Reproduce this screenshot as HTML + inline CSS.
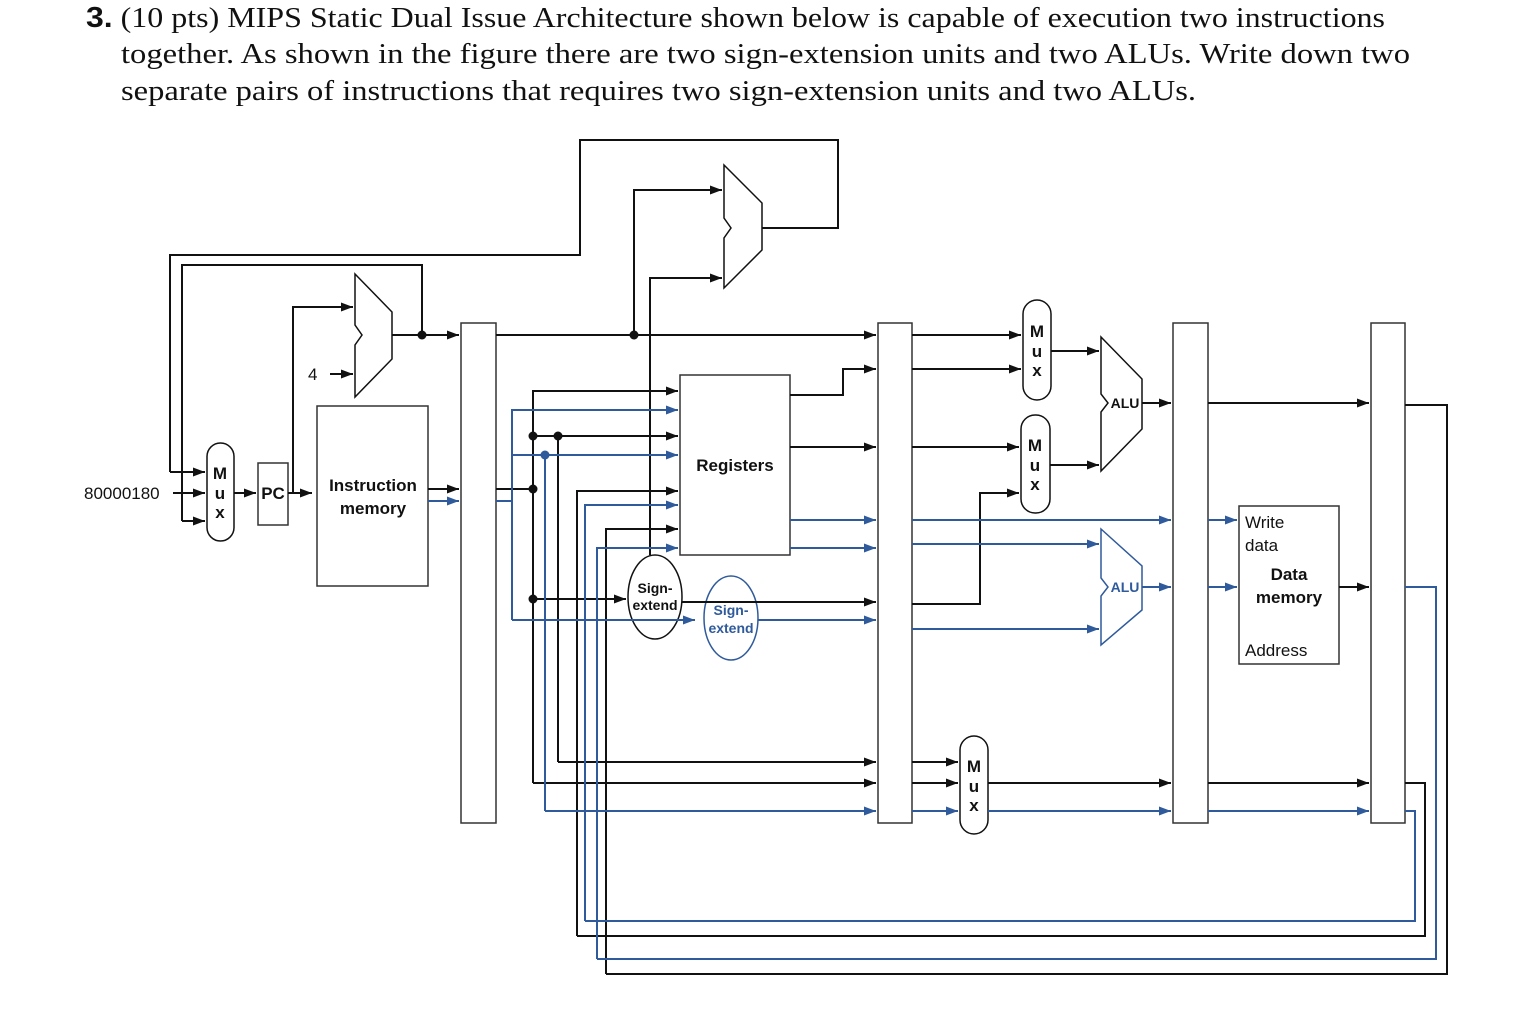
<!DOCTYPE html>
<html><head><meta charset="utf-8"><style>
html,body{margin:0;padding:0;background:#fff;}
svg{display:block}
.t{font-family:"Liberation Serif",serif;font-size:28.5px;fill:#111}
.s{font-family:"Liberation Sans",sans-serif;fill:#111}
.k{stroke:#111;stroke-width:2;fill:none}
.b{stroke:#2f5a9c;stroke-width:2;fill:none}
</style></head><body>
<svg width="1532" height="1014" viewBox="0 0 1532 1014" xmlns="http://www.w3.org/2000/svg">
<defs>
<marker id="ak" markerWidth="12" markerHeight="9" refX="12" refY="4.5" orient="auto" markerUnits="userSpaceOnUse"><path d="M0,0 L12,4.5 L0,9z" fill="#111"/></marker>
<marker id="ab" markerWidth="12" markerHeight="9" refX="12" refY="4.5" orient="auto" markerUnits="userSpaceOnUse"><path d="M0,0 L12,4.5 L0,9z" fill="#2f5a9c"/></marker>
</defs>
<text class="t" x="86" y="27" textLength="1299" lengthAdjust="spacingAndGlyphs"><tspan font-weight="bold" font-family="Liberation Sans">3.</tspan> (10 pts) MIPS Static Dual Issue Architecture shown below is capable of execution two instructions</text>
<text class="t" x="121" y="63" textLength="1289" lengthAdjust="spacingAndGlyphs">together. As shown in the figure there are two sign-extension units and two ALUs. Write down two</text>
<text class="t" x="121" y="100" textLength="1075" lengthAdjust="spacingAndGlyphs">separate pairs of instructions that requires two sign-extension units and two ALUs.</text>

<g stroke="#333" stroke-width="1.5" fill="#fff">
<rect x="461" y="323" width="35" height="500"/>
<rect x="878" y="323" width="34" height="500"/>
<rect x="1173" y="323" width="35" height="500"/>
<rect x="1371" y="323" width="34" height="500"/>
<rect x="317" y="406" width="111" height="180"/>
<rect x="680" y="375" width="110" height="180"/>
<rect x="258" y="463" width="30" height="62"/>
<rect x="1239" y="506" width="100" height="158"/>
</g>
<g stroke="#111" stroke-width="1.5" fill="#fff">
<rect x="207" y="443" width="27" height="98" rx="13.5"/>
<rect x="1023" y="300" width="28" height="100" rx="14"/>
<rect x="1021" y="415" width="29" height="98" rx="14"/>
<rect x="960" y="736" width="28" height="98" rx="14"/>
<path d="M355,274 L392,312 L392,359 L355,397 L355,345 L362,335 L355,325Z"/>
<path d="M724,165 L762,203 L762,250 L724,288 L724,238 L731,228 L724,218Z"/>
<path d="M1101,337 L1142,379 L1142,429 L1101,471 L1101,412 L1108,403 L1101,394Z"/>
<ellipse cx="655" cy="597" rx="27" ry="42"/>
</g>
<path d="M1101,529 L1142,566 L1142,610 L1101,645 L1101,596 L1108,587 L1101,578Z" fill="#fff" stroke="#2f5a9c" stroke-width="1.5"/>
<ellipse cx="731" cy="618" rx="27" ry="42" fill="#fff" stroke="#2f5a9c" stroke-width="1.5"/>

<g class="k">
<path d="M170,472 L170,255 L580,255 L580,140 L838,140 L838,228 L762,228"/>
<path d="M170,472 L205,472" marker-end="url(#ak)"/>
<path d="M182,521 L182,265 L422,265 L422,335"/>
<path d="M182,521 L205,521" marker-end="url(#ak)"/>
<path d="M173,493 L205,493" marker-end="url(#ak)"/>
<path d="M234,493 L256,493" marker-end="url(#ak)"/>
<path d="M288,493 L312,493" marker-end="url(#ak)"/>
<path d="M293,493 L293,307 L353,307" marker-end="url(#ak)"/>
<path d="M330,374 L353,374" marker-end="url(#ak)"/>
<path d="M392,335 L459,335" marker-end="url(#ak)"/>
<path d="M428,489 L459,489" marker-end="url(#ak)"/>
<path d="M496,335 L876,335" marker-end="url(#ak)"/>
<path d="M634,335 L634,190 L722,190" marker-end="url(#ak)"/>
<path d="M650,555 L650,278 L722,278" marker-end="url(#ak)"/>
<path d="M496,489 L533,489"/>
<path d="M533,783 L533,391 L678,391" marker-end="url(#ak)"/>
<path d="M533,436 L678,436" marker-end="url(#ak)"/>
<path d="M558,762 L558,436"/>
<path d="M577,936 L577,491 L678,491" marker-end="url(#ak)"/>
<path d="M606,974 L606,529 L678,529" marker-end="url(#ak)"/>
<path d="M533,599 L626,599" marker-end="url(#ak)"/>
<path d="M682,602 L876,602" marker-end="url(#ak)"/>
<path d="M790,395 L843,395 L843,369 L876,369" marker-end="url(#ak)"/>
<path d="M790,447 L876,447" marker-end="url(#ak)"/>
<path d="M558,762 L876,762" marker-end="url(#ak)"/>
<path d="M533,783 L876,783" marker-end="url(#ak)"/>
<path d="M912,335 L1021,335" marker-end="url(#ak)"/>
<path d="M912,369 L1021,369" marker-end="url(#ak)"/>
<path d="M1051,351 L1099,351" marker-end="url(#ak)"/>
<path d="M912,447 L1019,447" marker-end="url(#ak)"/>
<path d="M912,604 L980,604 L980,493 L1019,493" marker-end="url(#ak)"/>
<path d="M1050,465 L1099,465" marker-end="url(#ak)"/>
<path d="M1142,403 L1171,403" marker-end="url(#ak)"/>
<path d="M912,762 L958,762" marker-end="url(#ak)"/>
<path d="M912,783 L958,783" marker-end="url(#ak)"/>
<path d="M988,783 L1171,783" marker-end="url(#ak)"/>
<path d="M1208,403 L1369,403" marker-end="url(#ak)"/>
<path d="M1339,587 L1369,587" marker-end="url(#ak)"/>
<path d="M1208,783 L1369,783" marker-end="url(#ak)"/>
<path d="M1405,405 L1447,405 L1447,974 L606,974"/>
<path d="M1405,783 L1425,783 L1425,936 L577,936"/>
</g>
<g class="b">
<path d="M428,501 L459,501" marker-end="url(#ab)"/>
<path d="M496,501 L512,501"/>
<path d="M512,620 L512,410 L678,410" marker-end="url(#ab)"/>
<path d="M512,455 L678,455" marker-end="url(#ab)"/>
<path d="M545,811 L545,455"/>
<path d="M585,921 L585,505 L678,505" marker-end="url(#ab)"/>
<path d="M597,959 L597,548 L678,548" marker-end="url(#ab)"/>
<path d="M512,620 L695,620" marker-end="url(#ab)"/>
<path d="M758,620 L876,620" marker-end="url(#ab)"/>
<path d="M790,520 L876,520" marker-end="url(#ab)"/>
<path d="M790,548 L876,548" marker-end="url(#ab)"/>
<path d="M545,811 L876,811" marker-end="url(#ab)"/>
<path d="M912,520 L1171,520" marker-end="url(#ab)"/>
<path d="M912,544 L1099,544" marker-end="url(#ab)"/>
<path d="M912,629 L1099,629" marker-end="url(#ab)"/>
<path d="M1142,587 L1171,587" marker-end="url(#ab)"/>
<path d="M912,811 L958,811" marker-end="url(#ab)"/>
<path d="M988,811 L1171,811" marker-end="url(#ab)"/>
<path d="M1208,520 L1237,520" marker-end="url(#ab)"/>
<path d="M1208,587 L1237,587" marker-end="url(#ab)"/>
<path d="M1208,811 L1369,811" marker-end="url(#ab)"/>
<path d="M1405,587 L1436,587 L1436,959 L597,959"/>
<path d="M1405,811 L1415,811 L1415,921 L585,921"/>
</g>
<g fill="#111">
<circle cx="422" cy="335" r="4.5"/><circle cx="634" cy="335" r="4.5"/>
<circle cx="533" cy="436" r="4.5"/><circle cx="558" cy="436" r="4.5"/>
<circle cx="533" cy="489" r="4.5"/><circle cx="533" cy="599" r="4.5"/>
</g>
<circle cx="545" cy="455" r="4.5" fill="#2f5a9c"/>

<g class="s" font-size="17">
<text x="84" y="499">80000180</text>
<text x="308" y="380">4</text>
<text x="1245" y="528">Write</text>
<text x="1245" y="551">data</text>
<text x="1245" y="656">Address</text>
</g>
<g class="s" font-size="17" font-weight="bold" text-anchor="middle">
<text x="220" y="479">M</text><text x="220" y="499">u</text><text x="220" y="518">x</text>
<text x="1037" y="337">M</text><text x="1037" y="357">u</text><text x="1037" y="376">x</text>
<text x="1035" y="451">M</text><text x="1035" y="471">u</text><text x="1035" y="490">x</text>
<text x="974" y="772">M</text><text x="974" y="792">u</text><text x="974" y="811">x</text>
<text x="273" y="499">PC</text>
<text x="373" y="491">Instruction</text>
<text x="373" y="514">memory</text>
<text x="735" y="471">Registers</text>
<text x="1289" y="580">Data</text>
<text x="1289" y="603">memory</text>
</g>
<g class="s" font-size="14" font-weight="bold" text-anchor="middle">
<text x="655" y="593">Sign-</text><text x="655" y="610">extend</text>
<text x="1125" y="408">ALU</text>
<text x="731" y="615" fill="#2f5a9c">Sign-</text><text x="731" y="633" fill="#2f5a9c">extend</text>
<text x="1125" y="592" fill="#2f5a9c">ALU</text>
</g>
</svg>
</body></html>
